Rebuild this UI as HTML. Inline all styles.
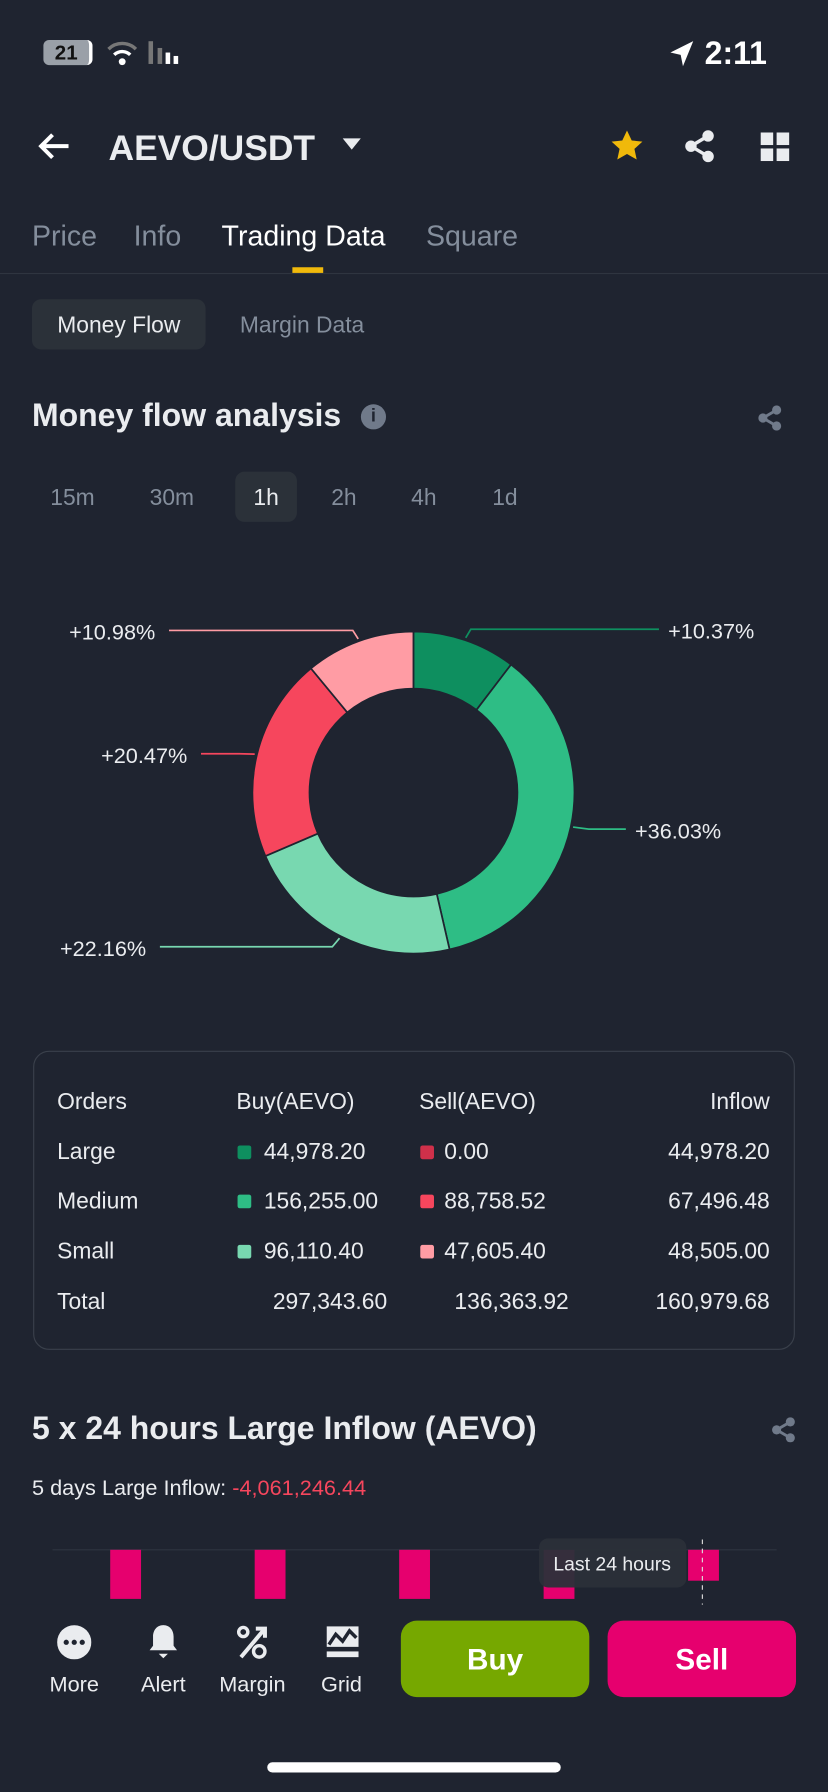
<!DOCTYPE html>
<html><head><meta charset="utf-8">
<style>
html,body{margin:0;padding:0;background:#1f2430;width:828px;height:1792px;overflow:hidden}
#wrap{position:absolute;left:0;top:0;width:725px;height:1569px;transform:scale(1.14207);transform-origin:0 0;font-family:"Liberation Sans",sans-serif;color:#eaecef}
.a{position:absolute;white-space:nowrap}
.g{color:#848e9c}
.b{font-weight:bold}
</style></head><body>
<div id="wrap">
<!-- status bar -->
<div class="a" style="left:38px;top:35px;width:40px;height:22px;background:#9aa0a8;border-radius:5px;color:#111;font-size:18px;font-weight:bold;text-align:center;line-height:22px;border-right:3px solid #fff">21</div>
<svg class="a" style="left:92px;top:34px" width="30" height="24" viewBox="0 0 30 24"><path d="M3 9a17 17 0 0 1 24 0" stroke="#777" stroke-width="3" fill="none"/><path d="M8 14a10 10 0 0 1 14 0" stroke="#fff" stroke-width="3" fill="none"/><circle cx="15" cy="20" r="3" fill="#fff"/></svg>
<svg class="a" style="left:130px;top:36px" width="36" height="22"><rect x="0" y="0" width="4" height="20" fill="#777"/><rect x="8" y="6" width="4" height="14" fill="#777"/><rect x="15" y="10" width="4" height="10" fill="#fff"/><rect x="22" y="13" width="4" height="7" fill="#fff"/></svg>
<svg class="a" style="left:585px;top:34px" width="24" height="26"><path d="M22 2 L2 12 L11 14 L13 24 Z" fill="#fff"/></svg>
<div class="a b" style="left:617px;top:31px;font-size:28px;color:#fff">2:11</div>
<!-- header -->
<svg class="a" style="left:32px;top:115px" width="30" height="26"><path d="M28 13H4M14 3L4 13l10 10" stroke="#fff" stroke-width="3.5" fill="none"/></svg>
<div class="a b" style="left:95px;top:112px;font-size:31px">AEVO/USDT</div>
<svg class="a" style="left:300px;top:121px" width="16" height="12"><path d="M0 0h16L8 10z" fill="#eaecef"/></svg>
<svg class="a" style="left:533px;top:113px" width="32" height="30" viewBox="0 0 24 24"><path d="M12 1l3.3 7 7.5.8-5.6 5.1 1.6 7.4L12 17.5 5.2 21.3l1.6-7.4L1.2 8.8 8.7 8z" fill="#f0b90b"/></svg>
<svg class="a" style="left:598px;top:113px" width="30" height="30"><circle cx="22" cy="6" r="5" fill="#eaecef"/><circle cx="22" cy="24" r="5" fill="#eaecef"/><circle cx="7" cy="15" r="5" fill="#eaecef"/><path d="M22 6L7 15l15 9" stroke="#eaecef" stroke-width="3" fill="none"/></svg>
<svg class="a" style="left:666px;top:116px" width="26" height="26"><rect x="0" y="0" width="11" height="11" fill="#eaecef"/><rect x="14" y="0" width="11" height="11" fill="#eaecef"/><rect x="0" y="14" width="11" height="11" fill="#eaecef"/><rect x="14" y="14" width="11" height="11" fill="#eaecef"/></svg>
<!-- tabs -->
<div class="a g" style="left:28px;top:193px;font-size:25px">Price</div>
<div class="a g" style="left:117px;top:193px;font-size:25px">Info</div>
<div class="a" style="left:194px;top:193px;font-size:25px;color:#fff">Trading Data</div>
<div class="a g" style="left:373px;top:193px;font-size:25px">Square</div>
<div class="a" style="left:256px;top:234px;width:27px;height:5px;background:#f0b90b"></div>
<div class="a" style="left:0;top:239px;width:725px;height:1px;background:#2f3540"></div>
<!-- pills -->
<div class="a" style="left:28px;top:262px;width:152px;height:44px;background:#2b3139;border-radius:8px;font-size:20px;line-height:46px;text-align:center">Money Flow</div>
<div class="a g" style="left:210px;top:262px;height:44px;font-size:20px;line-height:46px">Margin Data</div>
<div class="a b" style="left:28px;top:348px;font-size:28px">Money flow analysis</div>
<div class="a" style="left:316px;top:354px;width:22px;height:22px;border-radius:50%;background:#707a8a;color:#1f2430;font-size:16px;font-weight:bold;text-align:center;line-height:22px">i</div>
<svg class="a" style="left:663px;top:355px" width="22" height="22"><circle cx="17" cy="4" r="4" fill="#707a8a"/><circle cx="17" cy="18" r="4" fill="#707a8a"/><circle cx="5" cy="11" r="4" fill="#707a8a"/><path d="M17 4L5 11l12 7" stroke="#707a8a" stroke-width="2.5" fill="none"/></svg>
<!-- intervals -->
<div class="a g" style="left:44px;top:425px;font-size:20px">15m</div>
<div class="a g" style="left:131px;top:425px;font-size:20px">30m</div>
<div class="a" style="left:206px;top:413px;width:54px;height:44px;background:#2b3139;border-radius:8px;font-size:20px;line-height:46px;text-align:center">1h</div>
<div class="a g" style="left:290px;top:425px;font-size:20px">2h</div>
<div class="a g" style="left:360px;top:425px;font-size:20px">4h</div>
<div class="a g" style="left:431px;top:425px;font-size:20px">1d</div>
<!-- donut -->
<svg class="a" id="donut" style="left:0;top:480px" width="725" height="400"></svg>
<!-- table -->
<div class="a" style="left:29px;top:920px;width:665px;height:260px;border:1.5px solid #3a404b;border-radius:14px"></div>
<div id="tbl"></div>
<!-- large inflow -->
<div class="a b" style="left:28px;top:1235px;font-size:28px">5 x 24 hours Large Inflow (AEVO)</div>
<svg class="a" style="left:675px;top:1241px" width="22" height="22"><circle cx="17" cy="4" r="4" fill="#707a8a"/><circle cx="17" cy="18" r="4" fill="#707a8a"/><circle cx="5" cy="11" r="4" fill="#707a8a"/><path d="M17 4L5 11l12 7" stroke="#707a8a" stroke-width="2.5" fill="none"/></svg>
<div class="a" style="left:28px;top:1293px;font-size:19px">5 days Large Inflow: <span style="color:#f6465d">-4,061,246.44</span></div>
<svg class="a" id="bars" style="left:0;top:1340px" width="725" height="70"></svg>
<!-- bottom bar -->
<div class="a" style="left:0;top:1405px;width:725px;height:164px;background:#1f2430"></div>
<svg class="a" style="left:50px;top:1423px" width="30" height="30"><circle cx="15" cy="15" r="15" fill="#eaecef"/><circle cx="8" cy="15" r="2.3" fill="#1f2430"/><circle cx="15" cy="15" r="2.3" fill="#1f2430"/><circle cx="22" cy="15" r="2.3" fill="#1f2430"/></svg>
<svg class="a" style="left:129px;top:1422px" width="28" height="32"><path d="M14 1c-6 0-9 5-9 10v8l-3 4h24l-3-4v-8c0-5-3-10-9-10z" fill="#eaecef"/><path d="M10 26h8l-4 4z" fill="#eaecef"/></svg>
<svg class="a" style="left:207px;top:1423px" width="28" height="30"><circle cx="6" cy="6" r="4" fill="none" stroke="#eaecef" stroke-width="3"/><circle cx="20" cy="23" r="5" fill="none" stroke="#eaecef" stroke-width="3"/><path d="M4 28L25 3M17 3h8v8" stroke="#eaecef" stroke-width="3.5" fill="none"/></svg>
<svg class="a" style="left:286px;top:1424px" width="28" height="28"><rect x="0" y="0" width="28" height="18" fill="#eaecef"/><path d="M2 16l6-9 6 6 6-9 6 6" stroke="#1f2430" stroke-width="3" fill="none"/><rect x="0" y="22" width="28" height="5" fill="#eaecef"/></svg>
<div class="a" style="left:35px;top:1465px;width:60px;text-align:center;font-size:19px">More</div>
<div class="a" style="left:113px;top:1465px;width:60px;text-align:center;font-size:19px">Alert</div>
<div class="a" style="left:186px;top:1465px;width:70px;text-align:center;font-size:19px">Margin</div>
<div class="a" style="left:269px;top:1465px;width:60px;text-align:center;font-size:19px">Grid</div>
<div class="a b" style="left:351px;top:1419px;width:165px;height:67px;background:#76a800;border-radius:14px;text-align:center;line-height:69px;font-size:26px;color:#fff">Buy</div>
<div class="a b" style="left:532px;top:1419px;width:165px;height:67px;background:#e6006e;border-radius:14px;text-align:center;line-height:69px;font-size:26px;color:#fff">Sell</div>
<div class="a" style="left:234px;top:1543px;width:257px;height:9px;background:#fff;border-radius:5px"></div>
</div>
<script>
// Donut data
const segLabels=["Large Buy","Medium Buy","Small Buy","Medium Sell","Small Sell"];
const segValues=[10.37,36.03,22.16,20.47,10.98];
const segColors=["#0e8f5f","#2ebd85","#78d8b0","#f6465d","#ff9ca4"];
const labelPos=[[585,72,"start"],[556,247,"start"],[128,350,"end"],[164,181,"end"],[136,73,"end"]];
const NS="http://www.w3.org/2000/svg";
const svg=document.getElementById('donut');
const cx=362,cy=214,R=141,r=91;
const total=segValues.reduce((a,b)=>a+b,0);
let ang=0;
function pt(a,rad){return [cx+rad*Math.sin(a),cy-rad*Math.cos(a)];}
segValues.forEach((v,i)=>{
  const a0=ang/total*2*Math.PI;ang+=v;const a1=ang/total*2*Math.PI;
  const lg=(a1-a0)>Math.PI?1:0;
  const p0=pt(a0,R),p1=pt(a1,R),q1=pt(a1,r),q0=pt(a0,r);
  const p=document.createElementNS(NS,'path');
  p.setAttribute('d',`M${p0}A${R},${R} 0 ${lg} 1 ${p1}L${q1}A${r},${r} 0 ${lg} 0 ${q0}Z`);
  p.setAttribute('fill',segColors[i]);p.setAttribute('stroke','#1f2430');p.setAttribute('stroke-width','1.5');
  
  
  svg.appendChild(p);
  const am=(a0+a1)/2;const e=pt(am,R+2);const m=pt(am,R+16);
  const lp=labelPos[i];const endX=lp[2]=="start"?lp[0]-8:lp[0]+12;
  const l=document.createElementNS(NS,'polyline');
  l.setAttribute('points',`${e} ${m[0]},${lp[1]-1} ${endX},${lp[1]-1}`);
  l.setAttribute('fill','none');l.setAttribute('stroke',segColors[i]);l.setAttribute('stroke-width','1.5');
  
  
  svg.appendChild(l);
  const t=document.createElementNS(NS,'text');
  t.setAttribute('x',lp[0]);t.setAttribute('y',lp[1]+7);t.setAttribute('text-anchor',lp[2]);
  t.setAttribute('fill','#eaecef');t.setAttribute('font-size','19');t.setAttribute('font-family','Liberation Sans, sans-serif');
  t.textContent='+'+v.toFixed(2)+'%';
  
  
  svg.appendChild(t);
});
// Table
const rows=[["Orders","Buy(AEVO)","Sell(AEVO)","Inflow"],["Large","44,978.20","0.00","44,978.20"],["Medium","156,255.00","88,758.52","67,496.48"],["Small","96,110.40","47,605.40","48,505.00"],["Total","297,343.60","136,363.92","160,979.68"]];
const buyC=["","#0e8f5f","#2ebd85","#78d8b0"],sellC=["","#cf304a","#f6465d","#ff9ca4"];
const tbl=document.getElementById('tbl');let h='';
rows.forEach((rw,i)=>{const y=954+i*43.7;
 h+=`<div class="a" style="left:50px;top:${y}px;font-size:20px">${rw[0]}</div>`;
 if(i>0&&i<4){h+=`<div class="a" style="left:208px;top:${y+5}px;width:12px;height:12px;border-radius:2px;background:${buyC[i]}"></div><div class="a" style="left:368px;top:${y+5}px;width:12px;height:12px;border-radius:2px;background:${sellC[i]}"></div>`;
 h+=`<div class="a" style="left:231px;top:${y}px;font-size:20px">${rw[1]}</div><div class="a" style="left:389px;top:${y}px;font-size:20px">${rw[2]}</div>`;}
 else if(i==0){h+=`<div class="a" style="left:207px;top:${y}px;font-size:20px">${rw[1]}</div><div class="a" style="left:367px;top:${y}px;font-size:20px">${rw[2]}</div>`;}
 else {h+=`<div class="a" style="right:386px;top:${y}px;font-size:20px">${rw[1]}</div><div class="a" style="right:227px;top:${y}px;font-size:20px">${rw[2]}</div>`;}
 h+=`<div class="a" style="right:51px;top:${y}px;font-size:20px">${rw[3]}</div>`;
});
tbl.innerHTML=h;
// Bars
const dayLabels=["Day1","Day2","Day3","Day4","Last 24 hours"];
const dayValues=[-240000,-240000,-240000,-240000,-151100];
const bs=document.getElementById('bars');
const x0=110,step=126.5,base=17,yScale=v=>base+(-v)/240000*43;
bs.innerHTML=`<line x1="46" y1="${base}" x2="680" y2="${base}" stroke="#2f3540" stroke-width="1"/>`;
dayValues.forEach((v,i)=>{const rc=document.createElementNS(NS,'rect');
 rc.setAttribute('x',x0+i*step-13.5);rc.setAttribute('y',base);rc.setAttribute('width',27);rc.setAttribute('height',yScale(v)-base);rc.setAttribute('fill','#e6006e');
 
 
 bs.appendChild(rc);});
const tip=document.createElementNS(NS,'g');
tip.innerHTML=`<line x1="615" y1="8" x2="615" y2="70" stroke="#ddd" stroke-dasharray="4,4"/><rect x="472" y="7" width="129" height="43" rx="8" fill="#2b3039" opacity="0.95"/><text x="536" y="35" text-anchor="middle" fill="#eaecef" font-size="17" font-family="Liberation Sans, sans-serif">Last 24 hours</text>`;


bs.appendChild(tip);
</script>
</body></html>
